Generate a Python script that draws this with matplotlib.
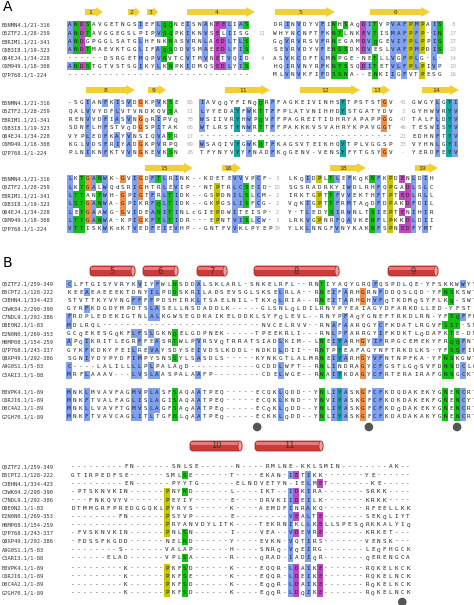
import matplotlib
matplotlib.use("Agg")
import matplotlib.pyplot as plt
from matplotlib.patches import Rectangle, FancyArrow, FancyBboxPatch, Ellipse, Circle

# ---------------- data ----------------
namesA = ["B5NMN4.1/21-316", "Q5ZTF2.1/28-259", "E8RIM1.1/21-341", "C6B3I8.1/19-323",
          "Q64EJ4.1/34-228", "C6M949.1/18-308", "Q7P768.1/1-224"]

A1_seg1 = ["ANDSAVGETNGSIEFLQQNEISNAKEELIAS", "ANDTAVGGEGSLPIPVSQPKIKNVSELIISG",
           "ANDGPGGLSATGLHFNKNASVRNLAEDLTLS", "ANDTMAEVKTGGLIFAQSDDVSMAEEDLFIS",
           "------DSRGETMQPVNVTCVTMVNETVQID", "ANDSTGTVSTSGIKYLKNPKIDMQSEDLYIS",
           "-------------------------------"]
A1_num1 = ["", "11", "", "", "4", "", ""]
A1_seg2 = ["DRINVDYVFINHSAQDITVPVAFPMPAIS", "WHYNCNFTFKNTLNKEVTISMAFPFP-IN",
           "GQVRVRSVFRNEGAMDVQGEVIFPLPPIS", "SEVRVDYVFENSSDKDVESLVAFPMPDIS",
           "ASVKCDFTLMNPGE-NETLLVGFPLG-L-", "HQIRVNYRFKNTSSQDITETVLFPLPIVP",
           "MLVNVKFIFDSSNA--ENKIIGFVTPESG"]
A1_num2 = ["8", "17", "17", "13", "14", "10", "16"]

A2_seg1 = ["-SGIANFKISVDGKPVKSE", "QALVVYDFLVTVNDKQVSA", "RENVVDFIASVNGQRIPVQ",
           "SDNFLHFSTVQDGSPITAK", "VYPLEDFKAYVNSIQVATR", "KGLVDSFRIYADGKPVRPQ",
           "PLNIKNFKTVVNGKEVKSN"]
A2_num1 = ["65", "11", "78", "66", "17", "69", "26"]
A2_seg2 = ["IAVQQYFINQQRFFAGKEIVINHSYTPSTSTGV", "LYYEDAYFWKTTFFPLATVNIHHDYSTGATYDV",
           "WSIIVRYHWPQVFFPAGREITIDHRYAPAPPGG", "WTLRSTYNWRTTFFPAKKKVSVAHRYKPAVGGT",
           "---------------------------------", "WSAQIVYGWKQTFKAGSVTEIKHQYTPLVGGSP",
           "TFYNYVYYFNADFKQGENV-VENSYFYTGSYGV"]
A2_num2 = ["41", "3", "47", "46", "21", "33", "-"]
A2_seg3 = ["GWGYLGYI", "GYHWVRYV", "TALFLDYV", "TESWISYV", "EDHNFTYV", "VYHNLGYI", "YERDFEYV"]

A3_seg1 = ["LKTGANWK-GVIGDFTLRINK--KDETEVVVPCF", "LKTGALWQdSRIGHTRLEVIP--NTPTRLCSEID",
           "LTTANTWH-GPIGTFRLTIDK--GSPDNILSLCM", "LSTGANWA-GPIKRFQLTIDK--GKPGSLISFCG",
           "LETGAAWG-GVIDEANITINLcGIEPDWITEISP", "LTTGANWA-KPIGKFTLTIDR---EPNTVISLCW",
           "VTTISKWKnKTVEDFEIEVHP--GNTFVVKLPYEP"]
A3_num1 = ["3", "15", "2", "2", "2", "3", "39"]
A3_seg2 = ["LKQIDPLTLEFKQKNFKPDENLDIH", "SGSRADRKYIWDLRHFQPGADLSLC",
           "IRKTGPTTFVVEKTHFTPTEDLRLL", "VQKIGPTTFRMTAQDFDPAKDFDIL",
           "Y-TLEDYSIRWNLTSIEPTENIHIR", "LRKVGPNRFQAVKENFLPKKDLDII",
           "YLKLNNGFVNYKAKNFSPNEDFYMT"]

strandsA1 = [("1", 85, 103), ("2", 128, 140), ("3", 147, 158), ("4", 187, 255),
             ("5", 275, 335), ("6", 370, 430)]
strandsA2 = [("8", 86, 135), ("9", 148, 166), ("11", 225, 270), ("12", 300, 360),
             ("13", 372, 390), ("14", 422, 459)]
strandsA3 = [("15", 145, 193), ("16", 222, 241), ("18", 330, 366), ("19", 415, 438)]

namesB1 = ["Q5ZTF2.1/259-349", "B5CPT2.1/128-222", "C3BHN4.1/334-423", "C3WK84.2/298-390",
           "C7NDL9.1/292-386", "D8E0N2.1/1-83", "E2N0N0.1/269-353", "H0MP08.1/154-259",
           "Q7P768.1/243-337", "Q8XP49.1/292-386", "A9G0S1.1/5-83", "C5ARI3.1/1-88"]
namesB2 = ["B0VPK4.1/1-89", "C6RJI6.1/1-89", "D0C4A2.1/1-89", "G7GH70.1/1-89"]

B1_seqs = ["CLFTGISYVRYKVIYFWLNSDDALSKLARL-SNKELRFL--RNTIYAQYGRQFQSPDLQE-YFSKKWWYV",
           "KEEAEAEEEKTDNYILPDSSKRILADSEVSGLSKSELRLA--RNEIFARHGRNFDDQSLQD-YFNSKSWYM",
           "STVTTKYVYNGFFFFPDSHIRKLTSAELNIL-TKXQLRIA--RNEITARHGHVFQTKDMQSYFLKQ-SWYN",
           "GYRFKDGDYMPDTSLASELLNSDADDLK-----GLSNLQLDILRNYPYEAIAGYDFARKDLLED-YFSTFIWYM",
           "FRDPLEDEKIGTNLALKGWSEGDKAIKELDDKLSYFQLEVL--RNYPFAQYGNEFTRKDLRN-YFSQFFWYN",
           "MDLRQL---------------------------NVCELRVV--RNAFAARQGYCFKDATLRGVFSST-SWYW",
           "GCQEKESGQKFLFSLGKNQELGDPNEK-----TPEEKRLI---RNLPFARRGYIFKDKTLQDAFKTE-DWYQ",
           "APQIKRITLEGRFFEASRTWLPVRSVQTRRATSIADLKIM--LNEIYARHGYIFRPGCEMEKYFRQQFNYM",
           "GYKFKDKYFEILREVAYSDYSEIVDSLKDDL-NDKDLDII--RNTPYEAFAGYNFTRKDLKS-YFSQFIWYS",
           "SGNIYDYPYDFIMPYSNSSYLSASDLS-----KYNKGTLALMRNEIYARHGYVFNTNPFKA-YFNSKGWYM",
           "C----LALILLLLPLPALAQD-----------GCDDLWFT--RNLINDRAGYCFGSTLGQSVFDNSDCLGK",
           "MRFLAAAV---LVSLAASPALAAFP--------CDELWGE--RNAIYKDAGYCFRTERAIRAFGNSGCKYD"]
B1_seqs2 = ["MNKLMVAVFAGMVPLASFSAQAATPEQ-----ECQKLQDD--YNLIYASKGFCFKDQDAKEKYGNENCRTT",
            "MNKFTVALFAGLISLAGISAQAATPEQ-----ECQKLKND--YNVIYASKGFCFKDKDAKEKFGNENCYTS",
            "MNKLLVAVFTGMVSLAGFSAQAATPEQ-----ECQKLQDD--YNLIYASKGFCFKDQDAKEKYGNENCRTT",
            "MNKFTVAVCAGLITLTGFNLQAATPEQ-----ECKKLQDD--YNLIYASKGFCFKDADAKAKYGNENCRTT"]
B1_dots = [32, 51, 66]
helicesB1 = [("5", 90, 135), ("6", 143, 178), ("7", 197, 227), ("8", 254, 339), ("9", 388, 438)]

B2_seqs = ["---------FN------SNLSE------N----RMLNE-KKLSMIN--------AK--",
           "GTIRPEDFSE------SMLSE------T----EKAN-IETIKK-------YE-----",
           "---------EN------PYYTG------ELNDVETYN-IELMET-------KE-----",
           "-PTSKNVKIN------PNYND------L----IKT--IDKIRA-------SRKK----",
           "---FNKQVYV------PEYIY------E----DRVKIIDEILK-------KRKK----",
           "DTMMGRFPREDGGQKLPYRYS------K----AEMDFINRAKQ-------RFEELLKK",
           "--------FN------PSYVP------E---------VEALTE-------SEKQLIYT",
           "----------------PRYANVDYLITK----TEKRNIKLLKELLSPESQRKKALYIQ",
           "-FVSKNVKIN------PNLSN------I----VEA--VDEVRE-------KRKET---",
           "-FDSSFKGDD------NELND------Y----EVKN-VQTIRS-------VENSK---",
           "--------S-------VALAP------H----SNRQ-VQEIRG-------LEQFHGCK",
           "------ELAD------VPLSA------R----QRAD-IADIQR-------QERENGCA"]
B2_seqs2 = ["---------K------PKFSD------K----EQQR-LDAIKE-------RQKELKCK",
            "---------K------PKFSE------K----EQQR-LDEIKE-------RQKELNCK",
            "---------K------PKFSD------K----EQQR-LDAIKE-------RQKELKCK",
            "---------K------PKFSD------K----EQQR-LDQIKE-------RQKELNCK"]
B2_dots = [56]
helicesB2 = [("10", 190, 242), ("11", 255, 323)]

# ---------------- style ----------------
CW = 5.88
DY = 8.25
MONO = "DejaVu Sans Mono"
FS = 4.3
classes = {**{c: "hyd" for c in "AILMFWVC"}, "K": "pos", "R": "pos", "D": "neg", "E": "neg",
           **{c: "pol" for c in "NQST"}, "G": "gly", "P": "pro", "H": "aro", "Y": "aro"}
colors = {"hyd": "#80a0f0", "pos": "#e8463c", "neg": "#c048c0", "pol": "#15c015",
          "gly": "#f09048", "pro": "#c8c800", "aro": "#15a4a4"}
thresholds = {"hyd": 0.6, "pos": 0.75, "neg": 0.5, "pol": 0.5, "gly": 0.45, "pro": 0.45, "aro": 0.5}

fig = plt.figure(figsize=(4.74, 6.05), dpi=100)
ax = fig.add_axes([0, 0, 1, 1])
ax.set_xlim(0, 474)
ax.set_ylim(605, 0)
ax.axis("off")


def pad(seqs, n):
    return [s.ljust(n, "-")[:n] for s in seqs]


def draw_seg(seqs, x0, y0, n=None, ref=None):
    n = n or max(len(s) for s in seqs)
    seqs = pad(seqs, n)
    allrows = seqs + (pad(ref, n) if ref else [])
    nr = len(allrows)
    for j in range(n):
        col = [s[j].upper() for s in allrows]
        for i in range(len(seqs)):
            ch = seqs[i][j]
            cu = ch.upper()
            x = x0 + j * CW
            y = y0 + i * DY
            cl = classes.get(cu)
            if cl:
                frac = sum(1 for c in col if classes.get(c) == cl) / nr
                if frac >= thresholds[cl]:
                    ax.add_patch(Rectangle((x - CW / 2, y - DY / 2), CW, DY,
                                           facecolor=colors[cl], edgecolor="none"))
            ax.text(x, y, ch, family=MONO, fontsize=FS, ha="center", va="center", color="#222")


def draw_names(names, y0, x=2):
    for i, nm in enumerate(names):
        ax.text(x, y0 + i * DY, nm, family=MONO, fontsize=3.9, ha="left", va="center", color="#333")


def draw_nums(nums, x, y0):
    for i, nm in enumerate(nums):
        ax.text(x, y0 + i * DY, nm, fontsize=4, ha="center", va="center", color="#aaa")


def draw_strands(strands, y):
    for lab, xa, xb in strands:
        hl = min(9, (xb - xa) * 0.4)
        ax.add_patch(FancyArrow(xa, y, xb - xa - hl, 0, width=6, head_width=10, head_length=hl,
                                length_includes_head=False, color="#f2d034", lw=0))
        ax.text((xa + xb - hl) / 2, y, lab, fontsize=4.3, ha="center", va="center", color="#333")


def draw_helices(helices, y):
    for lab, xa, xb in helices:
        ax.add_patch(FancyBboxPatch((xa, y - 5), xb - xa, 10, boxstyle="round,pad=0,rounding_size=3",
                                    facecolor="#cc3b3b", edgecolor="#a02020", lw=0.5))
        ax.add_patch(Rectangle((xa + 1, y - 4.5), xb - xa - 2, 3, facecolor="#e77a7a", edgecolor="none"))
        ax.add_patch(Ellipse((xb - 2, y), 4, 10, facecolor="#f2a0a0", edgecolor="#a02020", lw=0.4))
        ax.text((xa + xb) / 2, y, lab, fontsize=6, ha="center", va="center", color="#333")


def draw_dots(cols, x0, y):
    for c in cols:
        ax.add_patch(Circle((x0 + c * CW, y), 3.6, color="#555"))


# Panel A
ax.text(3, 7, "A", fontsize=10, va="center", ha="left")
draw_strands(strandsA1, 12)
draw_names(namesA, 25)
draw_seg(A1_seg1, 70, 25)
draw_nums(A1_num1, 262, 25)
draw_seg(A1_seg2, 275, 25)
draw_nums(A1_num2, 453, 25)

draw_strands(strandsA2, 90)
draw_names(namesA, 103)
draw_seg(A2_seg1, 70, 103)
draw_nums(A2_num1, 190, 103)
draw_seg(A2_seg2, 202, 103)
draw_nums(A2_num2, 403, 103)
draw_seg(A2_seg3, 414, 103)

draw_strands(strandsA3, 168)
draw_names(namesA, 179)
draw_seg(A3_seg1, 70, 179)
draw_nums(A3_num1, 277, 179)
draw_seg(A3_seg2, 290, 179)

# Panel B
ax.text(3, 263, "B", fontsize=10, va="center", ha="left")
draw_helices(helicesB1, 271)
draw_names(namesB1, 284)
draw_seg(B1_seqs, 69, 284, 70, ref=B1_seqs2)
draw_names(namesB2, 392)
draw_seg(B1_seqs2, 69, 392, 70, ref=B1_seqs)
draw_dots(B1_dots, 69, 427)

draw_helices(helicesB2, 446)
draw_names(namesB1, 467)
draw_seg(B2_seqs, 73, 467, 58, ref=B2_seqs2)
draw_names(namesB2, 568)
draw_seg(B2_seqs2, 73, 568, 58, ref=B2_seqs)
draw_dots(B2_dots, 73, 602)

fig.savefig("out.png", dpi=100)
